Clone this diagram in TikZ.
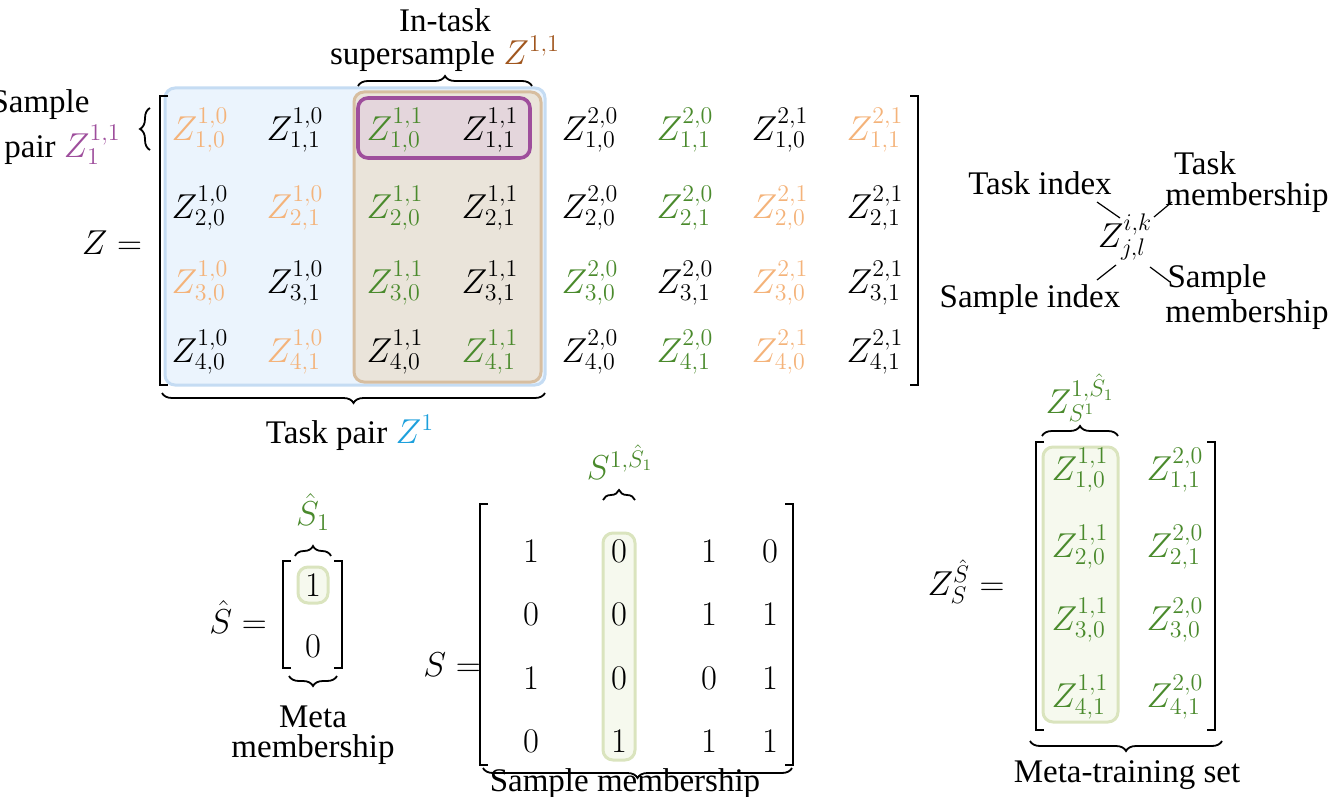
\documentclass[tikz,border=0pt]{standalone}
\usepackage{fontspec}
\setmainfont{Liberation Serif}
\newfontfamily\tfont{Liberation Serif}
\usetikzlibrary{decorations.pathreplacing}
\definecolor{cO}{HTML}{F4B37A}
\definecolor{cG}{HTML}{4A8A2C}
\definecolor{cK}{HTML}{000000}
\definecolor{cP}{HTML}{9E4E9C}
\definecolor{cB}{HTML}{1DA0DC}
\definecolor{cBr}{HTML}{A0561E}
\begin{document}
\begin{tikzpicture}[x=0.5pt,y=-0.5pt,
  ent/.style={inner sep=0pt,font=\fontsize{17}{19}\selectfont},
  txt/.style={inner sep=0pt,font=\tfont\fontsize{16.5}{18}\selectfont},
  brk/.style={line width=0.9pt},
  brc/.style={decorate,decoration={brace,amplitude=5pt},line width=0.9pt},
  hl/.style={rounded corners=5pt,line width=1.3pt},
  lnk/.style={line width=0.6pt}]
\useasboundingbox (0,0) rectangle (1330,797);
% highlight boxes
\node[draw={rgb,255:red,197;green,220;blue,243},fill={rgb,255:red,235;green,244;blue,253},hl,line width=1.5pt,minimum width=190pt,minimum height=148.5pt,inner sep=0pt] (bl) at (355,236.5) {};
\node[draw={rgb,255:red,215;green,190;blue,160},fill={rgb,255:red,234;green,228;blue,218},hl,line width=1.5pt,minimum width=93.5pt,minimum height=145pt,inner sep=0pt] (br) at (447.5,237) {};
\node[draw=cP,fill={rgb,255:red,228;green,214;blue,220},hl,line width=1.8pt,minimum width=86pt,minimum height=30pt,inner sep=0pt] (pu) at (444,128) {};
% big matrix
\def\rows{{130,208,283,352}}
\foreach \c/\sp/\xx in {1/{1,0}/200,2/{1,0}/295,3/{1,1}/395,4/{1,1}/490,5/{2,0}/590,6/{2,0}/685,7/{2,1}/780,8/{2,1}/875}{
  \foreach \r/\cl in {1/{O,K,G,K,K,G,K,O},2/{K,O,G,K,K,G,O,K},3/{O,K,G,K,G,K,O,K},4/{K,O,K,G,K,G,O,K}}{
    \pgfmathsetmacro{\yy}{\rows[\r-1]}
    \pgfmathtruncatemacro{\l}{1-mod(\c,2)}
    \foreach \cc [count=\i] in \cl {\ifnum\i=\c\xdef\thecol{c\cc}\fi}
    \node[ent,text=\thecol] (z-\r-\c) at (\xx,\yy) {$Z^{\sp}_{\r,\l}$};
  }}
\draw[brk] (168,96) -- ++(-8,0) -- (160,385) -- ++(8,0);
\draw[brk] (910,96) -- ++(8,0) -- (918,385) -- ++(-8,0);
\node[ent] (zeq) at (112,243) {$Z=$};
\draw[brc] (358,86) -- (532,86);
\node[txt] (it1) at (445,20) {In-task};
\node[txt] (it2) at (445,54) {supersample \textcolor{cBr}{$Z^{1,1}$}};
\draw[brc] (150,150) -- (150,108);
\node[txt] (sp1) at (40,105) {Sample};
\node[txt,anchor=west] (sp2) at (4,145) {pair \textcolor{cP}{$Z^{1,1}_{1}$}};
\draw[brc] (545,393) -- (162,393);
\node[txt] (tp) at (350,433) {Task pair \textcolor{cB}{$Z^{1}$}};
% legend
\node[ent] (lz) at (1125,237) {$Z^{i,k}_{j,l}$};
\node[txt] (ti) at (1040,183) {Task index};
\node[txt] (tm1) at (1205,163) {Task};
\node[txt] (tm2) at (1247,198) {membership};
\node[txt] (si) at (1030,300) {Sample index};
\node[txt] (sm1) at (1217,280) {Sample};
\node[txt] (sm2) at (1247,315) {membership};
\draw[lnk] (1097,202) -- (1120,218);
\draw[lnk] (1154,217) -- (1172,202);
\draw[lnk] (1097,280) -- (1116,265);
\draw[lnk] (1150,267) -- (1170,282);
% S hat
\node[draw={rgb,255:red,218;green,228;blue,190},fill={rgb,255:red,246;green,249;blue,238},hl,line width=1.5pt,minimum width=15pt,minimum height=18pt,inner sep=0pt] (sh) at (313,585) {};
\node[ent] (sh1) at (313,585) {$1$};
\node[ent] (sh0) at (313,646) {$0$};
\draw[brk] (291,561) -- ++(-8,0) -- (283,668) -- ++(8,0);
\draw[brk] (334,561) -- ++(8,0) -- (342,668) -- ++(-8,0);
\node[ent] (sheq) at (238,617) {$\hat S=$};
\draw[brc] (295,556) -- (331,556);
\node[ent,text=cG] (shl) at (313,512) {$\hat S_1$};
\draw[brc] (337,676) -- (289,676);
\node[txt] (mm1) at (313,717) {Meta};
\node[txt] (mm2) at (313,750) {membership};
% S
\node[draw={rgb,255:red,218;green,228;blue,190},fill={rgb,255:red,246;green,249;blue,238},hl,line width=1.5pt,minimum width=16pt,minimum height=113.5pt,inner sep=0pt] (sc) at (619,646.5) {};
\foreach \r/\yy/\vals in {1/551/{1,0,1,0},2/614/{0,0,1,1},3/678/{1,0,0,1},4/741/{0,1,1,1}}{
  \foreach \v [count=\c] in \vals {
    \pgfmathsetmacro{\xx}{{531,619,709,770}[\c-1]}
    \node[ent] (s-\r-\c) at (\xx,\yy) {$\v$};
  }}
\draw[brk] (488,504) -- ++(-8,0) -- (480,765) -- ++(8,0);
\draw[brk] (785,504) -- ++(8,0) -- (793,765) -- ++(-8,0);
\node[ent] (seq) at (452,665) {$S=$};
\draw[brc] (603,500) -- (635,500);
\node[ent,text=cG] (sl) at (620,462) {$S^{1,\hat S_1}$};
\draw[brc] (792,768) -- (483,768);
\node[txt] (smm) at (625,784) {Sample membership};
% Z_S^S
\node[draw={rgb,255:red,218;green,228;blue,190},fill={rgb,255:red,246;green,249;blue,238},hl,line width=1.5pt,minimum width=37.5pt,minimum height=137.5pt,inner sep=0pt] (zc) at (1080.5,584.5) {};
\foreach \r/\yy/\a/\b in {1/470/0/1,2/547/0/1,3/620/0/0,4/697/1/1}{
  \node[ent,text=cG] (t-\r-1) at (1080,\yy) {$Z^{1,1}_{\r,\a}$};
  \node[ent,text=cG] (t-\r-2) at (1175,\yy) {$Z^{2,0}_{\r,\b}$};
}
\draw[brk] (1044,442) -- ++(-8,0) -- (1036,730) -- ++(8,0);
\draw[brk] (1207,442) -- ++(8,0) -- (1215,730) -- ++(-8,0);
\node[ent] (zseq) at (966,582) {$Z^{\hat S}_{S}=$};
\draw[brc] (1042,436) -- (1118,436);
\node[ent,text=cG] (zsl) at (1080,398) {$Z^{1,\hat S_1}_{S^1}$};
\draw[brc] (1222,741) -- (1030,741);
\node[txt] (mts) at (1127,775) {Meta-training set};
\end{tikzpicture}
\end{document}
